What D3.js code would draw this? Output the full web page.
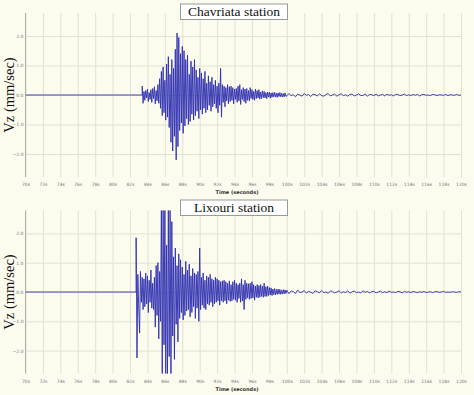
<!DOCTYPE html>
<html>
<head>
<meta charset="utf-8">
<script src="https://cdn.jsdelivr.net/npm/d3@7"></script>
<style>
  body { margin: 0; background: #fbfbee; }
  svg { display: block; }
  .tick text { font-family: "DejaVu Sans", sans-serif; font-size: 4.5px; fill: #777; }
  .grid .tick line { stroke: #e2e2d2; stroke-width: 1; }
  .grid .domain { display: none; }
  .title { font-family: "Liberation Serif", "Times New Roman", serif; font-size: 13.5px; fill: #111; }
  .ylab { font-family: "Liberation Serif", "Times New Roman", serif; font-size: 14.5px; fill: #111; }
  .xlab { font-family: "DejaVu Sans", sans-serif; font-size: 5px; font-weight: bold; fill: #333; }
</style>
</head>
<body>
<svg id="chart" width="474" height="395"></svg>
<script>
// x ticks, every 2 seconds
var timeTicks = d3.range(70, 121, 2);
var vzTicks = [2, 1, 0, -1, -2];

// Chavriata: trace starts at 83.4 s, 0.1 s samples up to 100 s
var chavStart = 83.4, chavStep = 0.1;
var chavValues = [
  0.30, -0.28, 0.12, -0.18, 0.15, -0.10, 0.20, -0.22, 0.08, -0.15,
  0.18, -0.25, 0.22, -0.12, 0.28, -0.30, 0.15, -0.20, 0.35, -0.28,
  0.55, -0.45, 0.80, -0.70, 0.95, -0.60, 0.50, -0.85, 1.05, -0.75,
  1.30, -1.10, 0.70, -1.60, 1.20, -1.90, 0.90, -1.40, 1.55, -2.20,
  2.10, -1.75, 1.95, -1.20, 1.40, -0.95, 1.65, -1.30, 1.50, -1.05,
  1.20, -0.80, 1.35, -1.00, 0.70, -0.90, 1.15, -0.65, 0.95, -0.85,
  1.20, -0.70, 0.85, -0.55, 0.60, -0.80, 0.90, -0.50, 0.75, -0.65,
  0.55, -0.45, 0.80, -0.60, 0.40, -0.50, 0.65, -0.35, 0.45, -0.55,
  0.60, -0.40, 0.35, -0.30, 0.50, -0.45, 0.30, -0.60, 0.40, -0.35,
  0.90, -0.75, 0.35, -0.25, 0.30, -0.40, 0.25, -0.20, 0.35, -0.30,
  0.28, -0.22, 0.30, -0.18, 0.25, -0.30, 0.20, -0.15, 0.22, -0.25,
  0.30, -0.20, 0.35, -0.32, 0.18, -0.15, 0.25, -0.22, 0.20, -0.28,
  0.22, -0.18, 0.15, -0.20, 0.25, -0.12, 0.18, -0.15, 0.12, -0.18,
  0.20, -0.12, 0.15, -0.10, 0.18, -0.14, 0.10, -0.12, 0.14, -0.09,
  0.12, -0.10, 0.08, -0.12, 0.10, -0.07, 0.09, -0.10, 0.07, -0.08,
  0.08, -0.06, 0.09, -0.07, 0.06, -0.08, 0.07, -0.05, 0.08, -0.06,
  0.06, -0.07, 0.05, -0.06, 0.07, -0.05
];
// coda after 100 s, 0.25 s samples
var chavTailStart = 100.25, chavTailStep = 0.25;
var chavTail = [
  0.05, -0.02, 0.01, -0.06, 0.03, 0.00, -0.04, 0.05, -0.01, 0.02,
  -0.05, 0.03, 0.01, -0.03, 0.04, -0.02, -0.04, 0.02, 0.05, -0.03,
  0.00, 0.03, -0.04, 0.01, 0.04, -0.02, 0.01, -0.04, 0.02, 0.03,
  -0.03, 0.00, 0.04, -0.02, -0.01, 0.03, -0.04, 0.02, 0.01, -0.02,
  0.03, -0.03, 0.00, 0.02, -0.03, 0.03, -0.01, 0.01, -0.03, 0.02,
  0.02, -0.02, 0.00, 0.03, -0.02, 0.01, -0.02, 0.02, -0.01, 0.02,
  -0.03, 0.01, 0.02, -0.01, 0.00, -0.02, 0.02, 0.01, -0.02, 0.01,
  0.00, -0.01, 0.02, -0.02, 0.01, 0.00, -0.01, 0.02, -0.01, 0.00
];

// Lixouri: trace starts at 82.7 s, clipped at the top/bottom of the plot
var lixStart = 82.7, lixStep = 0.1;
var lixValues = [
  1.85, -2.25, 0.60, -0.55, -1.40, 0.70, -0.35, 0.50, -0.60, 0.45,
  -0.50, 0.65, -0.40, 0.55, -0.70, 0.40, -0.35, 0.75, -0.55, 0.30,
  -0.60, 0.50, -1.20, 0.90, -0.80, 1.00, -1.60, 0.70, -1.00, 2.90,
  -2.90, 2.90, -1.80, 2.90, -2.90, 1.60, -2.90, 2.90, -2.20, 2.90,
  -2.90, 2.40, -1.50, 1.20, -2.30, 1.50, -1.10, 0.90, -1.70, 1.30,
  -0.90, 1.10, -0.70, 0.85, -0.95, 0.60, -0.80, 1.05, -0.65, 0.75,
  -0.60, 0.95, -0.85, 0.55, -0.70, 0.80, -0.50, 0.65, -0.90, 0.60,
  -0.55, 0.70, -1.00, 1.50, -0.60, 0.50, -0.45, 0.65, -0.55, 0.40,
  -0.60, 0.55, -0.40, 0.50, -0.45, 0.60, -0.35, 0.45, -0.50, 0.40,
  -0.40, 0.50, -0.35, 0.45, -0.30, 0.40, -0.45, 0.35, -0.30, 0.38,
  -0.35, 0.40, -0.30, 0.35, -0.40, 0.30, -0.28, 0.38, -0.32, 0.25,
  -0.30, 0.35, -0.25, 0.40, -0.28, 0.30, -0.35, 0.25, -0.22, 0.30,
  -0.35, 0.45, -0.30, 0.25, -0.60, 0.40, -0.25, 0.30, -0.20, 0.28,
  -0.25, 0.30, -0.22, 0.35, -0.20, 0.25, -0.28, 0.20, -0.18, 0.25,
  -0.20, 0.22, -0.18, 0.25, -0.15, 0.20, -0.18, 0.30, -0.15, 0.18,
  -0.15, 0.20, -0.12, 0.15, -0.10, 0.14, -0.12, 0.10, -0.09, 0.12,
  -0.10, 0.09, -0.08, 0.10, -0.07, 0.09, -0.08, 0.06, -0.07, 0.08,
  -0.06, 0.07, -0.05, 0.06
];
var lixTailStart = 100.25, lixTailStep = 0.25;
var lixTail = [
  -0.06, 0.04, 0.01, -0.05, 0.07, -0.02, 0.00, 0.05, -0.04, 0.02,
  -0.01, -0.05, 0.04, 0.01, -0.03, 0.05, -0.02, 0.00, -0.04, 0.03,
  0.02, -0.03, 0.00, 0.04, -0.03, 0.01, -0.02, 0.04, -0.04, 0.01,
  0.03, -0.02, 0.00, -0.03, 0.04, -0.01, 0.02, -0.03, 0.01, 0.02,
  -0.03, 0.00, 0.03, -0.02, 0.01, -0.02, 0.03, -0.01, 0.00, -0.02,
  0.02, 0.01, -0.03, 0.02, -0.01, 0.01, -0.02, 0.02, 0.00, -0.02,
  0.01, -0.01, 0.02, -0.02, 0.00, 0.01, -0.02, 0.01, 0.01, -0.01,
  0.00, 0.02, -0.01, 0.00, -0.01, 0.01, 0.00, -0.01, 0.01, 0.00
];

function toPoints(start, step, values) {
  return values.map(function (v, i) {
    return { t: start + i * step, v: v };
  });
}

var svg = d3.select('#chart');

function drawPanel(opts) {
  var x = d3.scaleLinear().domain([70, 120]).range([25.5, 461]);
  var y = d3.scaleLinear().domain([-2.78, 2.78]).range([opts.bottom, opts.top]);
  var g = svg.append('g');

  // grid + tick labels
  var xAxis = d3.axisBottom(x)
    .tickValues(timeTicks)
    .tickSize(-(opts.bottom - opts.top))
    .tickPadding(6)
    .tickFormat(function (d) { return d + 's'; });
  g.append('g')
    .attr('class', 'grid')
    .attr('transform', 'translate(0,' + opts.bottom + ')')
    .call(xAxis);

  var yAxis = d3.axisLeft(y)
    .tickValues(vzTicks)
    .tickSize(-(x.range()[1] - x.range()[0]))
    .tickPadding(2)
    .tickFormat(d3.format('.1f'));
  g.append('g')
    .attr('class', 'grid')
    .attr('transform', 'translate(' + x.range()[0] + ',0)')
    .call(yAxis);

  // left axis line
  g.append('line')
    .attr('x1', x.range()[0]).attr('x2', x.range()[0])
    .attr('y1', opts.top).attr('y2', opts.bottom)
    .attr('stroke', '#b0b0a8').attr('stroke-width', 1);

  // trace
  var clipId = 'clip-' + opts.id;
  svg.append('clipPath').attr('id', clipId)
    .append('rect')
      .attr('x', x.range()[0]).attr('y', opts.top)
      .attr('width', x.range()[1] - x.range()[0])
      .attr('height', opts.bottom - opts.top);

  var points = [{ t: 70, v: 0 }, { t: opts.start, v: 0 }]
    .concat(toPoints(opts.start, opts.step, opts.values))
    .concat(toPoints(opts.tailStart, opts.tailStep, opts.tail))
    .concat([{ t: 120, v: 0 }]);

  var line = d3.line()
    .x(function (d) { return x(d.t); })
    .y(function (d) { return y(d.v); });

  g.append('path')
    .datum(points)
    .attr('clip-path', 'url(#' + clipId + ')')
    .attr('fill', 'none')
    .attr('stroke', '#2e2eb0')
    .attr('stroke-width', 0.9)
    .attr('d', line);

  // station title box
  g.append('rect')
    .attr('x', 180.5).attr('y', opts.boxY + 0.5)
    .attr('width', 107).attr('height', 15.5)
    .attr('fill', '#fff').attr('stroke', '#9a9a9a');
  g.append('text')
    .attr('class', 'title')
    .attr('x', 234).attr('y', opts.boxY + 12.5)
    .attr('text-anchor', 'middle')
    .text(opts.title);

  g.append('text')
    .attr('class', 'ylab')
    .attr('transform', 'translate(14,' + y(0) + ') rotate(-90)')
    .attr('text-anchor', 'middle')
    .text('Vz (mm/sec)');

  g.append('text')
    .attr('class', 'xlab')
    .attr('x', 237).attr('y', opts.bottom + 17)
    .attr('text-anchor', 'middle')
    .text('Time (seconds)');
}

drawPanel({
  id: 'chav', title: 'Chavriata station', top: 13, bottom: 177, boxY: 3.5,
  start: chavStart, step: chavStep, values: chavValues,
  tailStart: chavTailStart, tailStep: chavTailStep, tail: chavTail
});
drawPanel({
  id: 'lix', title: 'Lixouri station', top: 210.5, bottom: 373.5, boxY: 199.5,
  start: lixStart, step: lixStep, values: lixValues,
  tailStart: lixTailStart, tailStep: lixTailStep, tail: lixTail
});
</script>
</body>
</html>
